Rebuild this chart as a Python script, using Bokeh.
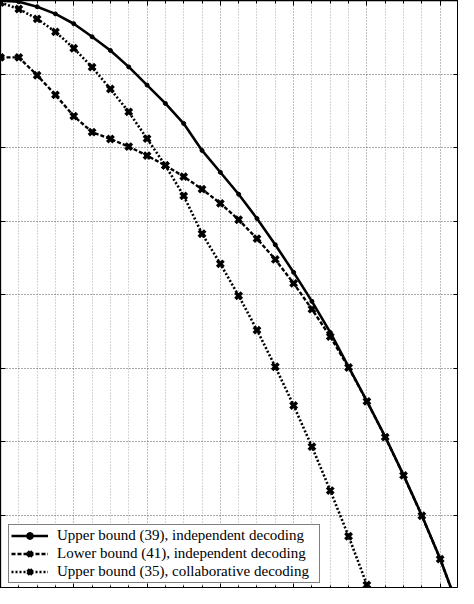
from bokeh.plotting import figure
from bokeh.models import (LinearAxis, LogAxis, FixedTicker, SingleIntervalTicker,
                          Range1d, Legend, LegendItem, CustomJSTickFormatter)
from bokeh.embed import file_html
from bokeh.resources import INLINE

# ---- data (y is a probability on a log axis) ----
snr_indep = [0, 1, 2, 3, 4, 5, 6, 7, 8, 9, 10, 11, 12, 13, 14, 15, 16, 17, 18, 19,
             20, 21, 22, 23, 24, 25]
upper_indep = [0.99, 0.961, 0.824, 0.657, 0.483, 0.321, 0.209, 0.125, 0.0707, 0.0398,
               0.0212, 0.00912, 0.0046, 0.00231, 0.00108, 4.76e-4, 2.0e-4, 8.07e-5,
               3.05e-5, 1.04e-5, 3.55e-6, 1.16e-6, 3.49e-7, 9.85e-8, 2.54e-8, 5.4e-9]
lower_indep = [0.1685, 0.1685, 0.0961, 0.052, 0.0267, 0.0162, 0.01306, 0.0103, 0.00775,
               0.0057, 0.00402, 0.00271, 0.00174, 0.00104, 5.75e-4, 3.0e-4, 1.415e-4,
               6.31e-5, 2.67e-5, 1.015e-5, 3.52e-6, 1.145e-6, 3.46e-7, 9.76e-8, 2.51e-8,
               5.36e-9]
snr_collab = [0, 1, 2, 3, 4, 5, 6, 7, 8, 9, 10, 11, 12, 13, 14, 15, 16, 17, 18, 19, 20]
upper_collab = [0.94, 0.766, 0.563, 0.3745, 0.2242, 0.124, 0.0625, 0.0305, 0.0132, 0.0057,
                0.0022, 6.71e-4, 2.615e-4, 9.61e-5, 3.28e-5, 1.04e-5, 3.09e-6, 8.5e-7,
                2.15e-7, 5.14e-8, 1.12e-8]
y_ticks = [1e-8, 1e-7, 1e-6, 1e-5, 1e-4, 1e-3, 1e-2, 1e-1, 1.0]
labels = ["Upper bound (39), independent decoding",
          "Lower bound (41), independent decoding",
          "Upper bound (35), collaborative decoding"]

p = figure(width=458, height=588, output_backend="svg", toolbar_location=None,
           x_range=Range1d(0, 25), y_range=Range1d(1e-8, 1.0), y_axis_type="log",
           min_border=0, background_fill_color="white", border_fill_color="white")
p.outline_line_color = "black"
p.outline_line_width = 1

xt = SingleIntervalTicker(interval=4, num_minor_ticks=4)
yt = FixedTicker(ticks=y_ticks, minor_ticks=[])
empty = CustomJSTickFormatter(code="return ''")

p.add_layout(LinearAxis(), "above")
p.add_layout(LogAxis(), "right")

for ax in p.xaxis:
    ax.ticker = xt
for ax in p.yaxis:
    ax.ticker = yt
for ax in p.xaxis + p.yaxis:
    ax.formatter = empty
    ax.major_label_text_font_size = "0px"
    ax.major_label_standoff = 0
    ax.major_tick_out = 0
    ax.minor_tick_out = 0
    ax.major_tick_in = 5
    ax.minor_tick_in = 3
    ax.axis_line_color = "black"
    ax.axis_line_width = 1.3
    ax.major_tick_line_color = "black"
    ax.minor_tick_line_color = "black"
    ax.axis_label = None

p.xgrid.ticker = xt
p.xgrid.grid_line_color = "#a8a8a8"
p.xgrid.grid_line_dash = "1 2"
p.xgrid.minor_grid_line_color = "#a8a8a8"
p.xgrid.minor_grid_line_dash = "1 2"
p.ygrid.ticker = yt
p.ygrid.grid_line_color = "#555555"
p.ygrid.grid_line_dash = "1 2"

l1 = p.line(snr_indep, upper_indep, line_color="black", line_width=2.6)
m1 = p.scatter(snr_indep, upper_indep, marker="circle", size=4, color="black")
l2 = p.line(snr_indep, lower_indep, line_color="black", line_width=2.4, line_dash="4 2")
m2 = p.scatter(snr_indep, lower_indep, marker="x", size=9, line_color="black", line_width=3.5)
l3 = p.line(snr_collab, upper_collab, line_color="black", line_width=2.6, line_dash="2 2")
m3 = p.scatter(snr_collab, upper_collab, marker="x", size=9, line_color="black", line_width=3.5)

legend = Legend(items=[LegendItem(label=labels[0], renderers=[l1, m1]),
                       LegendItem(label=labels[1], renderers=[l2, m2]),
                       LegendItem(label=labels[2], renderers=[l3, m3])],
                location=(8, 5), glyph_width=37, glyph_height=17, label_standoff=9,
                padding=2, spacing=1, label_text_font="Liberation Serif",
                label_text_font_size="15px", label_text_color="black",
                label_height=17,
                border_line_color="black", border_line_width=1.3,
                background_fill_color="white", background_fill_alpha=1.0,
                label_width=260, margin=0)
p.add_layout(legend, "center")

open("out.html", "w").write(file_html(p, INLINE))
